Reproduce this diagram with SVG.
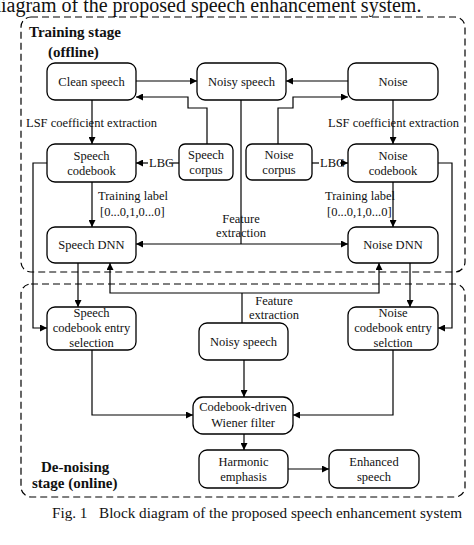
<svg xmlns="http://www.w3.org/2000/svg" width="474" height="545" viewBox="0 0 474 545">
<defs>
<marker id="ah" viewBox="0 0 10 10" refX="10" refY="5" markerWidth="7" markerHeight="7" orient="auto-start-reverse" markerUnits="userSpaceOnUse">
<path d="M0,0 L10,5 L0,10 z" fill="#000"/>
</marker>
<style>
text{font-family:"Liberation Serif","Times New Roman",serif;fill:#111}
.n rect{fill:#fff;stroke:#000;stroke-width:1.3}
.n text{font-size:12.5px;text-anchor:middle}
.lbl{font-size:12.5px}
.stage{fill:none;stroke:#000;stroke-width:1.2;stroke-dasharray:7,4}
.b{font-weight:bold;font-size:15px}
#connectors path,#connectors line{fill:none;stroke:#000;stroke-width:1.2}
.cap{font-size:15.2px}
</style>
</defs>
<rect width="474" height="545" fill="#fff"/>
<text x="-9" y="12" style="font-size:20px">diagram of the proposed speech enhancement system.</text>

<g id="training-stage">
<rect class="stage" x="21" y="17" width="444" height="255" rx="10"/>
<text class="b" x="29" y="37">Training stage</text>
<text class="b" x="48" y="57">(offline)</text>
</g>
<g id="denoising-stage">
<rect class="stage" x="21" y="284" width="444" height="213" rx="10"/>
<text class="b" x="41" y="472">De-noising</text>
<text class="b" x="32" y="488">stage (online)</text>
</g>

<g id="connectors">
<line x1="136" y1="81" x2="197" y2="81" marker-end="url(#ah)"/>
<line x1="348" y1="81" x2="286" y2="81" marker-end="url(#ah)"/>
<path d="M207,144 V108 H188 V97 H136" marker-end="url(#ah)"/>
<path d="M278,144 V108 H293 V97 H348" marker-end="url(#ah)"/>
<line x1="241" y1="100" x2="241" y2="244"/>
<line x1="92" y1="100" x2="92" y2="144" marker-end="url(#ah)"/>
<line x1="393" y1="100" x2="393" y2="144" marker-end="url(#ah)"/>
<line x1="179" y1="163" x2="169" y2="163"/>
<line x1="148" y1="163" x2="136" y2="163" marker-end="url(#ah)"/>
<line x1="312" y1="163" x2="319" y2="163"/>
<line x1="340" y1="163" x2="348" y2="163" marker-end="url(#ah)"/>
<line x1="92" y1="182" x2="92" y2="227" marker-end="url(#ah)"/>
<line x1="393" y1="182" x2="393" y2="227" marker-end="url(#ah)"/>
<line x1="241" y1="244" x2="136" y2="244" marker-end="url(#ah)"/>
<line x1="241" y1="244" x2="348" y2="244" marker-end="url(#ah)"/>
<path d="M47,163 H33 V328 H47" marker-end="url(#ah)"/>
<path d="M438,163 H452 V328 H438" marker-end="url(#ah)"/>
<line x1="78" y1="263" x2="78" y2="307" marker-end="url(#ah)"/>
<line x1="410" y1="263" x2="410" y2="307" marker-end="url(#ah)"/>
<path d="M242,293 H110 V263" marker-end="url(#ah)"/>
<path d="M242,293 H379 V263" marker-end="url(#ah)"/>
<line x1="242" y1="293" x2="242" y2="323"/>
<line x1="244" y1="360" x2="244" y2="397" marker-end="url(#ah)"/>
<path d="M92,350 V415 H193" marker-end="url(#ah)"/>
<path d="M393,350 V415 H293" marker-end="url(#ah)"/>
<line x1="244" y1="434" x2="244" y2="450" marker-end="url(#ah)"/>
<line x1="288" y1="469" x2="329" y2="469" marker-end="url(#ah)"/>
</g>

<g id="connector-labels">
<text class="lbl" x="26" y="127">LSF coefficient extraction</text>
<text class="lbl" x="328" y="127">LSF coefficient extraction</text>
<text class="lbl" x="149" y="167">LBG</text>
<text class="lbl" x="320" y="167">LBG</text>
<text class="lbl" x="98" y="200">Training label</text>
<text class="lbl" x="100" y="216">[0...0,1,0...0]</text>
<text class="lbl" x="325" y="200">Training label</text>
<text class="lbl" x="327" y="216">[0...0,1,0...0]</text>
<text class="lbl" x="241" y="223" text-anchor="middle">Feature</text>
<text class="lbl" x="241" y="237" text-anchor="middle">extraction</text>
<text class="lbl" x="274" y="305" text-anchor="middle">Feature</text>
<text class="lbl" x="274" y="319" text-anchor="middle">extraction</text>
</g>

<g id="clean-speech" class="n"><rect x="47" y="63" width="89" height="37" rx="8"/><text x="91.5" y="86">Clean speech</text></g>
<g id="noisy-speech-train" class="n"><rect x="197" y="63" width="89" height="37" rx="8"/><text x="241.5" y="86">Noisy speech</text></g>
<g id="noise" class="n"><rect x="348" y="63" width="90" height="37" rx="8"/><text x="393" y="86">Noise</text></g>
<g id="speech-codebook" class="n"><rect x="47" y="144" width="89" height="38" rx="8"/><text x="91.5" y="160">Speech</text><text x="91.5" y="175">codebook</text></g>
<g id="speech-corpus" class="n"><rect x="179" y="144" width="54" height="36" rx="6"/><text x="206" y="159">Speech</text><text x="206" y="174">corpus</text></g>
<g id="noise-corpus" class="n"><rect x="246" y="144" width="66" height="36" rx="6"/><text x="279" y="159">Noise</text><text x="279" y="174">corpus</text></g>
<g id="noise-codebook" class="n"><rect x="348" y="144" width="90" height="38" rx="8"/><text x="393" y="160">Noise</text><text x="393" y="175">codebook</text></g>
<g id="speech-dnn" class="n"><rect x="47" y="227" width="89" height="36" rx="8"/><text x="91.5" y="249">Speech DNN</text></g>
<g id="noise-dnn" class="n"><rect x="348" y="227" width="90" height="36" rx="8"/><text x="393" y="249">Noise DNN</text></g>
<g id="speech-entry" class="n"><rect x="47" y="307" width="89" height="43" rx="8"/><text x="91.5" y="317">Speech</text><text x="91.5" y="332">codebook entry</text><text x="91.5" y="347">selection</text></g>
<g id="noisy-speech-online" class="n"><rect x="199" y="323" width="89" height="37" rx="8"/><text x="243.5" y="346">Noisy speech</text></g>
<g id="noise-entry" class="n"><rect x="348" y="307" width="90" height="43" rx="8"/><text x="393" y="317">Noise</text><text x="393" y="332">codebook entry</text><text x="393" y="347">selction</text></g>
<g id="wiener" class="n"><rect x="193" y="397" width="100" height="37" rx="10"/><text x="243" y="411">Codebook-driven</text><text x="243" y="427">Wiener filter</text></g>
<g id="harmonic" class="n"><rect x="199" y="450" width="89" height="38" rx="8"/><text x="243.5" y="466">Harmonic</text><text x="243.5" y="481">emphasis</text></g>
<g id="enhanced" class="n"><rect x="329" y="450" width="90" height="38" rx="8"/><text x="374" y="466">Enhanced</text><text x="374" y="481">speech</text></g>

<text class="cap" x="52" y="518">Fig. 1</text>
<text class="cap" x="99" y="518">Block diagram of the proposed speech enhancement system</text>
</svg>
